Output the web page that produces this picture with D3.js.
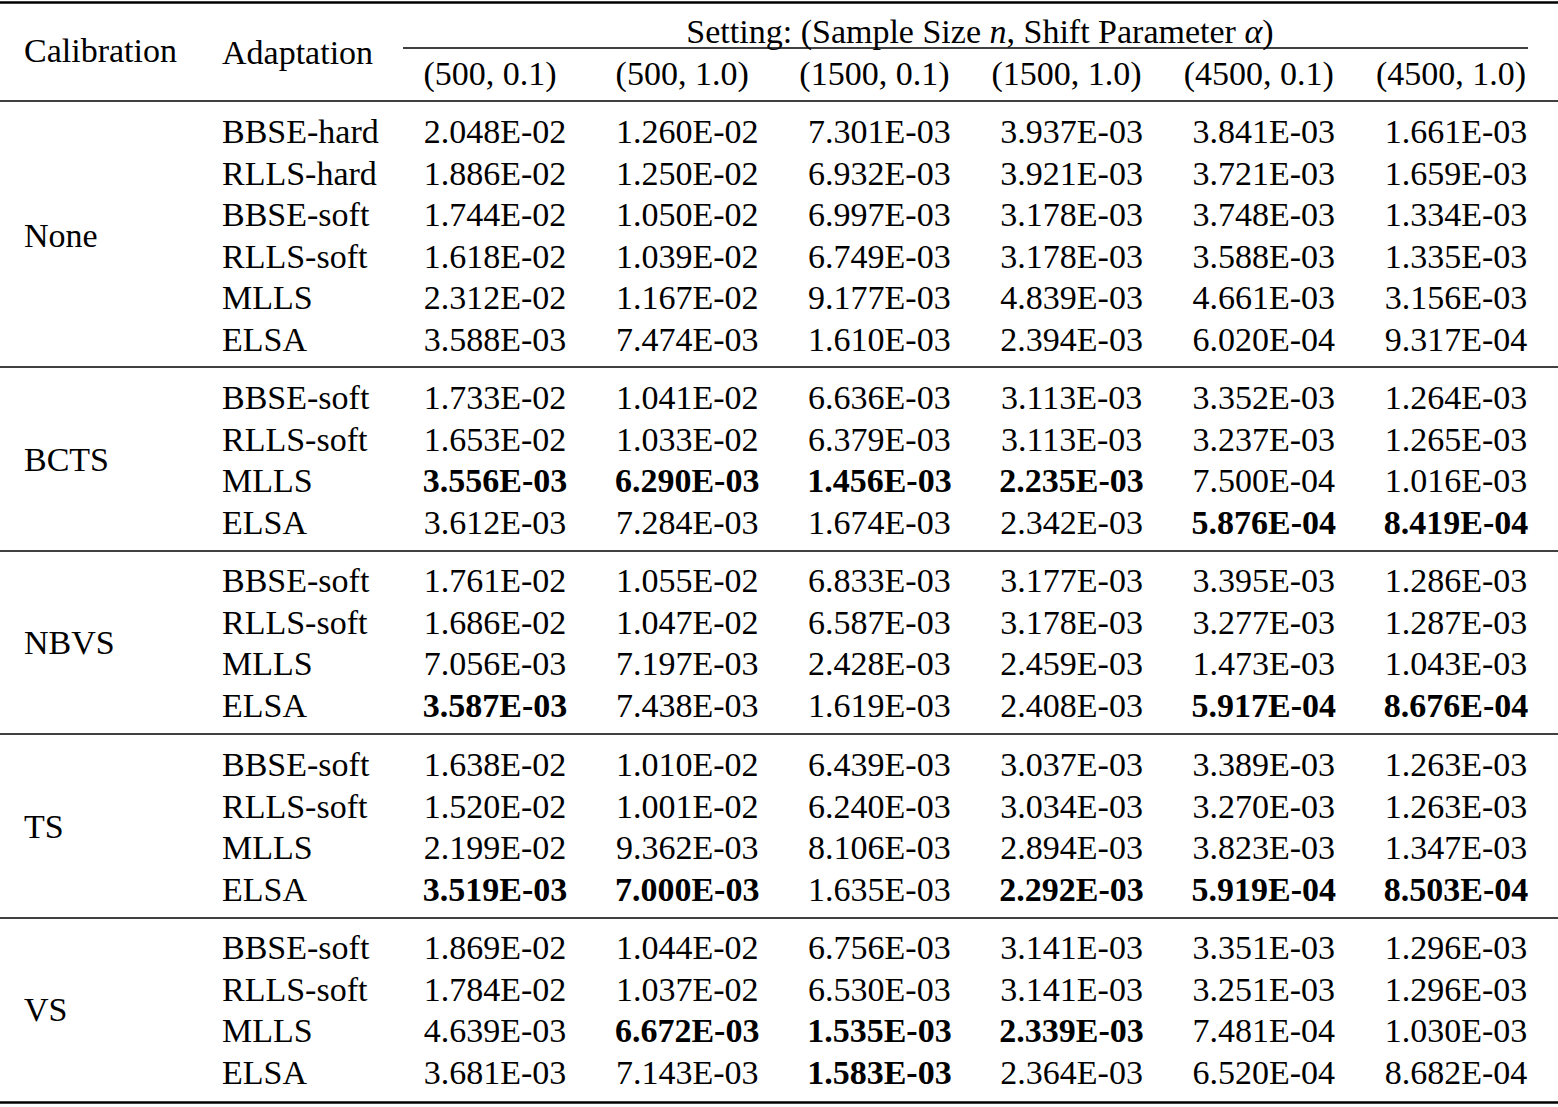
<!DOCTYPE html>
<html><head><meta charset="utf-8">
<script src="https://cdn.jsdelivr.net/npm/d3@7"></script>
<style>body{margin:0;background:#fff}</style>
</head><body><div id="chart"></div>
<script>
const settings = ["(500, 0.1)","(500, 1.0)","(1500, 0.1)","(1500, 1.0)","(4500, 0.1)","(4500, 1.0)"];
const groups = [
  {name:"None", methods:["BBSE-hard","RLLS-hard","BBSE-soft","RLLS-soft","MLLS","ELSA"]},
  {name:"BCTS", methods:["BBSE-soft","RLLS-soft","MLLS","ELSA"]},
  {name:"NBVS", methods:["BBSE-soft","RLLS-soft","MLLS","ELSA"]},
  {name:"TS",   methods:["BBSE-soft","RLLS-soft","MLLS","ELSA"]},
  {name:"VS",   methods:["BBSE-soft","RLLS-soft","MLLS","ELSA"]}
];
const values = [
  ["2.048E-02","1.260E-02","7.301E-03","3.937E-03","3.841E-03","1.661E-03"],
  ["1.886E-02","1.250E-02","6.932E-03","3.921E-03","3.721E-03","1.659E-03"],
  ["1.744E-02","1.050E-02","6.997E-03","3.178E-03","3.748E-03","1.334E-03"],
  ["1.618E-02","1.039E-02","6.749E-03","3.178E-03","3.588E-03","1.335E-03"],
  ["2.312E-02","1.167E-02","9.177E-03","4.839E-03","4.661E-03","3.156E-03"],
  ["3.588E-03","7.474E-03","1.610E-03","2.394E-03","6.020E-04","9.317E-04"],
  ["1.733E-02","1.041E-02","6.636E-03","3.113E-03","3.352E-03","1.264E-03"],
  ["1.653E-02","1.033E-02","6.379E-03","3.113E-03","3.237E-03","1.265E-03"],
  ["3.556E-03","6.290E-03","1.456E-03","2.235E-03","7.500E-04","1.016E-03"],
  ["3.612E-03","7.284E-03","1.674E-03","2.342E-03","5.876E-04","8.419E-04"],
  ["1.761E-02","1.055E-02","6.833E-03","3.177E-03","3.395E-03","1.286E-03"],
  ["1.686E-02","1.047E-02","6.587E-03","3.178E-03","3.277E-03","1.287E-03"],
  ["7.056E-03","7.197E-03","2.428E-03","2.459E-03","1.473E-03","1.043E-03"],
  ["3.587E-03","7.438E-03","1.619E-03","2.408E-03","5.917E-04","8.676E-04"],
  ["1.638E-02","1.010E-02","6.439E-03","3.037E-03","3.389E-03","1.263E-03"],
  ["1.520E-02","1.001E-02","6.240E-03","3.034E-03","3.270E-03","1.263E-03"],
  ["2.199E-02","9.362E-03","8.106E-03","2.894E-03","3.823E-03","1.347E-03"],
  ["3.519E-03","7.000E-03","1.635E-03","2.292E-03","5.919E-04","8.503E-04"],
  ["1.869E-02","1.044E-02","6.756E-03","3.141E-03","3.351E-03","1.296E-03"],
  ["1.784E-02","1.037E-02","6.530E-03","3.141E-03","3.251E-03","1.296E-03"],
  ["4.639E-03","6.672E-03","1.535E-03","2.339E-03","7.481E-04","1.030E-03"],
  ["3.681E-03","7.143E-03","1.583E-03","2.364E-03","6.520E-04","8.682E-04"]
];
// [row, col] of bold cells
const bold = [[8,0],[8,1],[8,2],[8,3],[9,4],[9,5],[13,0],[13,4],[13,5],
  [17,0],[17,1],[17,3],[17,4],[17,5],[20,1],[20,2],[20,3],[21,2]];

const width = 1558, height = 1107;
const svg = d3.select("#chart").append("svg").attr("width", width).attr("height", height)
  .style("font-family", "'Liberation Serif', 'Times New Roman', serif").style("font-size", "34px");

const x = d3.scalePoint().domain(d3.range(6)).range([495, 1456]);
const groupTop = [131, 397, 580, 764, 947];
const step = 41.6;
const rules = [101, 367, 551, 734, 918];
const boldSet = new Set(bold.map(d => d[0] + "_" + d[1]));

function line(y, w) {
  svg.append("line").attr("x1", 0).attr("x2", width).attr("y1", y).attr("y2", y)
    .attr("stroke", "#000").attr("stroke-width", w);
}
line(2.5, 2.5);
rules.forEach(y => line(y, 1.6));
line(1102.5, 2.5);
svg.append("line").attr("x1", 403).attr("x2", 1528).attr("y1", 48).attr("y2", 48)
  .attr("stroke", "#000").attr("stroke-width", 1.4);

const text = (t, xx, yy, anchor) => svg.append("text").attr("x", xx).attr("y", yy)
  .attr("dy", "0.35em").attr("text-anchor", anchor || "start").text(t);

text("Calibration", 24, 50);
text("Adaptation", 222, 52);
const st = text("", 980, 31, "middle");
st.append("tspan").text("Setting: (Sample Size ");
st.append("tspan").attr("font-style", "italic").text("n");
st.append("tspan").text(", Shift Parameter ");
st.append("tspan").attr("font-style", "italic").text("α");
st.append("tspan").text(")");
settings.forEach((s, i) => text(s, x(i) - 5, 73, "middle"));

let r = 0;
groups.forEach((g, gi) => {
  const y0 = groupTop[gi];
  const mid = y0 + step * (g.methods.length - 1) / 2;
  text(g.name, 24, mid);
  g.methods.forEach((m, mi) => {
    const y = y0 + mi * step;
    text(m, 222, y);
    values[r].forEach((v, c) => {
      text(v, x(c), y, "middle").attr("font-weight", boldSet.has(r + "_" + c) ? "bold" : null);
    });
    r++;
  });
});
</script></body></html>
